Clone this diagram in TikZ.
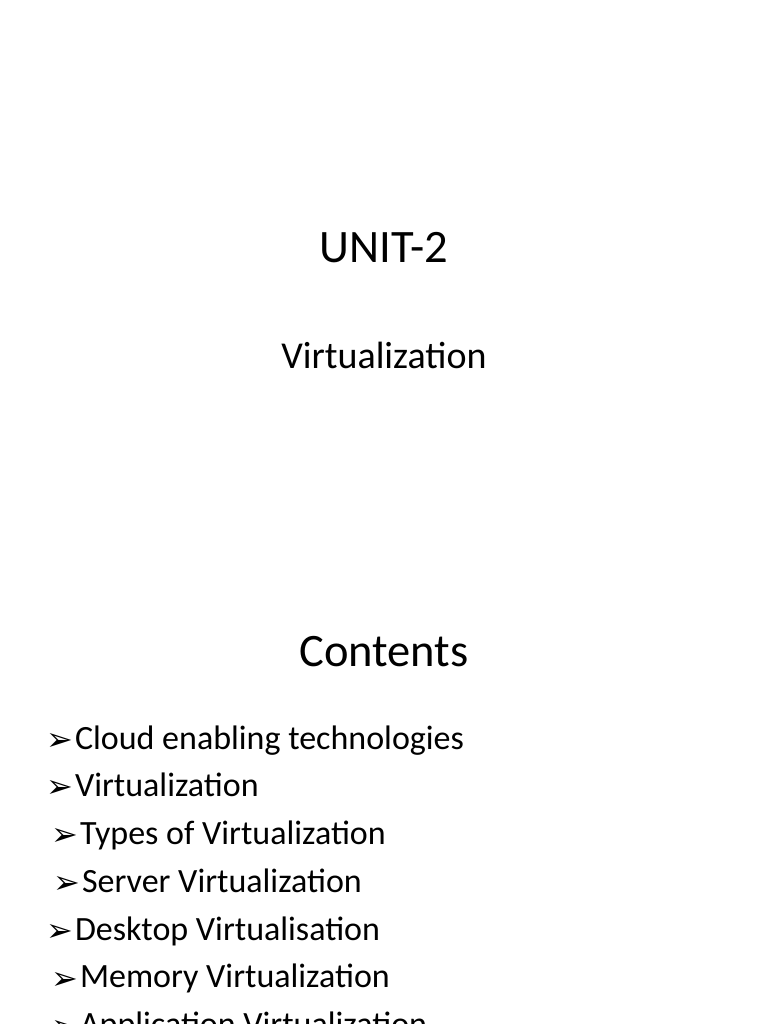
\documentclass[tikz,border=0pt]{standalone}
\usepackage{fontspec}
\setmainfont{Carlito}
\newfontfamily\symf{DejaVu Sans Bold}
\begin{document}
\begin{tikzpicture}[x=1pt,y=1pt,
  title/.style={anchor=base,inner sep=0pt,font=\fontsize{46.5}{52}\selectfont},
  sub/.style={anchor=base,inner sep=0pt,font=\fontsize{38}{44}\selectfont},
  item/.style={anchor=base west,inner sep=0pt,font=\fontsize{34}{40}\selectfont}]
\clip (0,0) rectangle (768,1024);
\fill[white] (0,0) rectangle (768,1024);
\node[title] (u) at (384,1024-263) {UNIT-2};
\node[sub] (v) at (384,1024-369) {Virtualization};
\node[title] (c) at (384,1024-667) {Contents};
\newcommand{\arr}{{\symf\fontsize{32}{36}\selectfont\raisebox{-1pt}{➢}}\hspace{2pt}}
\node[item] (i1) at (46,1024-750) {\arr Cloud enabling technologies};
\node[item] (i2) at (46,1024-797) {\arr Virtualization};
\node[item] (i3) at (51,1024-845) {\arr Types of Virtualization};
\node[item] (i4) at (53,1024-893) {\arr Server Virtualization};
\node[item] (i5) at (46,1024-941) {\arr Desktop Virtualisation};
\node[item] (i6) at (51,1024-988) {\arr Memory Virtualization};
\node[item] (i7) at (51,1024-1036) {\arr Application Virtualization};
\end{tikzpicture}
\end{document}
